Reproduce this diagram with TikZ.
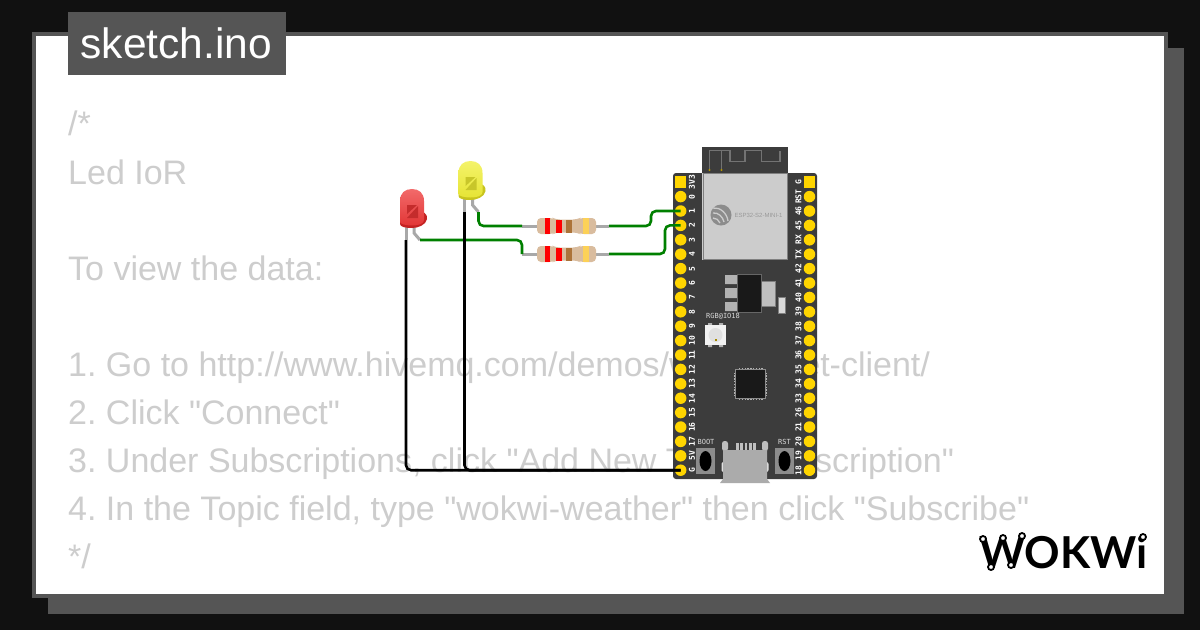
\documentclass[tikz,border=0pt]{standalone}
\usepackage{fontspec}
\setmainfont{Liberation Sans}[Ligatures=TeXOff]
\setmonofont{DejaVu Sans Mono}
\newfontfamily\logofont{Lato}
\definecolor{pagedark}{HTML}{111111}
\definecolor{framegray}{HTML}{555555}
\definecolor{codegray}{HTML}{CDCDCD}
\definecolor{boardgray}{HTML}{3C3C3C}
\definecolor{pinyellow}{HTML}{FFD500}
\definecolor{wiregreen}{HTML}{008000}
\definecolor{legsgray}{HTML}{A8A8A8}
\definecolor{restan}{HTML}{D9BC9E}
\tikzset{
    codeline/.style={anchor=base west,inner sep=0pt,text=codegray,font=\fontsize{34}{38}\selectfont},
    pinround/.style={circle,fill=pinyellow,inner sep=0pt,minimum size=11.5pt},
    pinsquare/.style={rectangle,fill=pinyellow,inner sep=0pt,minimum size=11.5pt},
    pinlabel/.style={rotate=90,inner sep=0pt,text=white,font=\ttfamily\bfseries\fontsize{8}{9}\selectfont},
    silk/.style={inner sep=0pt,text=black!15,font=\ttfamily\fontsize{7}{8}\selectfont},
    greenwire/.style={draw=wiregreen,line width=2.6pt,rounded corners=5pt},
    blackwire/.style={draw=black,line width=2.6pt,rounded corners=5pt},
    leadwire/.style={draw=legsgray,line width=3pt},
}
\frenchspacing
\begin{document}
\begin{tikzpicture}[x=1pt,y=-1pt]
    \useasboundingbox (0,0) rectangle (1200,630);
    % page and frame
    \fill[pagedark] (0,0) rectangle (1200,630);
    \fill[framegray] (48,48) rectangle (1184,614);
    \fill[framegray] (32,32) rectangle (1168,598);
    \fill[white] (36,36) rectangle (1164,594);
    \fill[framegray] (68,12) rectangle (286,75);
    \node[anchor=base west,inner sep=0pt,text=white,font=\fontsize{42.5}{46}\selectfont] (title) at (80.5,58) {sketch.ino};
    % code text
    \node[codeline] (line1) at (68,135) {/*};
    \node[codeline] (line2) at (68,184) {Led IoR};
    \node[codeline] (line4) at (68,280) {To view the data:};
    \node[codeline] (line6) at (68,376) {1. Go to http://www.hivemq.com/demos/websocket-client/};
    \node[codeline] (line7) at (68,424) {2. Click "Connect"};
    \node[codeline] (line8) at (68,472) {3. Under Subscriptions, click "Add New Topic Subscription"};
    \node[codeline] (line9) at (68,520) {4. In the Topic field, type "wokwi-weather" then click "Subscribe"};
    \node[codeline] (line10) at (68,568) {*/};
    % logo
    \node[anchor=base west,inner sep=0pt,text=black,font=\logofont\bfseries\fontsize{44}{48}\selectfont] (logo) at (979,568) {WOKWi};
    \foreach \x/\y in {983/539,1003/538,1022/536,991/567,1011/565,1143/537}
        \draw[black,line width=1.8pt,fill=white] (\x,\y) circle (3);
    % board
    \fill[boardgray] (702,147) rectangle (788,175);
    \draw[black!55,line width=1.8pt] (709.5,170) -- (709.5,150.5) -- (730,150.5) -- (730,161.5) -- (745,161.5) -- (745,150.5) -- (761.5,150.5) -- (761.5,161.5) -- (780,161.5) -- (780,150.5);
    \draw[black!55,line width=1.8pt] (721.5,170) -- (721.5,150.5);
    \fill[pinyellow!70!black] (709.5,170) circle (1.2) (721.5,170) circle (1.2);
    \fill[boardgray,rounded corners=3pt] (673,173) rectangle (817,479);
    \fill[black!20] (702,173) rectangle (788,260);
    \draw[black!50,line width=0.8pt] (703,173.5) rectangle (787,259.5);
    % module marking
    \fill[black!45] (721,215) circle (10.5);
    \draw[black!20,line width=1.3pt] (713,208) .. controls (720,207) and (727,213) .. (728,221);
    \draw[black!20,line width=1.3pt] (713,213) .. controls (718,212) and (723,217) .. (724,222);
    \draw[black!20,line width=1.3pt] (713,218) .. controls (716,218) and (719,220) .. (720,223);
    \node[inner sep=0pt,text=black!40,font=\fontsize{6}{7}\selectfont] (modulename) at (758.5,215) {ESP32-S2-MINI-1};
    % regulator and small parts
    \fill[black!30] (725,275) rectangle (740,284) (725,288) rectangle (740,298) (725,302) rectangle (740,311);
    \fill[black!25,draw=black!50] (758,281) rectangle (775,306);
    \fill[black!90,draw=black!60] (737,274) rectangle (761,312);
    \fill[black!15,draw=black!50] (778,297) rectangle (785,313);
    % rgb led
    \node[silk] (rgbtext) at (723,316.5) {RGB@IO18};
    \fill[black!30] (708,323) rectangle (712,347) (719,323) rectangle (723,347);
    \fill[white!95!black] (705,325) rectangle (726,345);
    \fill[black!12] (715.5,335) circle (7);
    \fill[pinyellow!65!black] (714.5,338.5) rectangle (716.5,341);
    % main chip
    \foreach \i in {0,...,8}{
        \fill[black!30] ({739+\i*2.8},367.5) rectangle ++(1.4,2);
        \fill[black!30] ({739+\i*2.8},397.5) rectangle ++(1.4,2);
        \fill[black!30] (733.5,{372.5+\i*2.8}) rectangle ++(2,1.4);
        \fill[black!30] (764.5,{372.5+\i*2.8}) rectangle ++(2,1.4);
    }
    \fill[black!90,draw=black!45,line width=0.6pt] (735,369) rectangle (765,398);
    % buttons
    \node[silk] (boottext) at (706,441.5) {BOOT};
    \node[silk] (rsttext) at (784.5,441.5) {RST};
    \foreach \x in {705.5,784.5}{
        \fill[black!45] ({\x-9.5},448) rectangle ({\x+9.5},474);
        \fill[black] (\x,461) ellipse (6 and 10);
    }
    % usb
    \foreach \i in {0,...,4}
        \fill[black!25] ({736+\i*4.3},443) rectangle ++(2.8,8);
    \fill[black!25,rounded corners=2.5pt] (722,441) rectangle (728,451) (762,441) rectangle (768,451);
    \fill[black!12,rounded corners=2pt] (721.5,462) rectangle (725,472) (765,462) rectangle (768.5,472);
    \fill[black!33] (723,450) -- (767,450) -- (767,479) -- (770,483) -- (720,483) -- (723,479) -- cycle;
    % pins on the left
    \foreach \n [count=\i from 0] in {3V3,0,1,2,3,4,5,6,7,8,9,10,11,12,13,14,15,16,17,5V,G}{
        \ifnum\i=0
            \node[pinsquare] (pinL\n) at (680.7,{182.2+14.4*\i}) {};
        \else
            \node[pinround] (pinL\n) at (680.7,{182.2+14.4*\i}) {};
        \fi
        \node[pinlabel] (txtL\n) at (692,{182.2+14.4*\i}) {\n};
    }
    % pins on the right
    \foreach \n [count=\i from 0] in {G,RST,46,45,RX,TX,42,41,40,39,38,37,36,35,34,33,26,21,20,19,18}{
        \ifnum\i=0
            \node[pinsquare] (pinR\n) at (809.5,{182.2+14.4*\i}) {};
        \else
            \node[pinround] (pinR\n) at (809.5,{182.2+14.4*\i}) {};
        \fi
        \node[pinlabel] (txtR\n) at (798.5,{182.2+14.4*\i}) {\n};
    }
    % resistors
    \foreach \y/\n in {226/Top,254/Bot}{
        \coordinate (res\n L) at (522,\y);
        \coordinate (res\n R) at (609,\y);
        \draw[leadwire] (res\n L) -- (res\n R);
        \fill[restan,rounded corners=4pt] (537,\y-8) -- (553,\y-8) -- (556,\y-6.5) -- (577,\y-6.5) -- (580,\y-8) -- (596,\y-8) -- (596,\y+8) -- (580,\y+8) -- (577,\y+6.5) -- (556,\y+6.5) -- (553,\y+8) -- (537,\y+8) -- cycle;
        \fill[red] (544.5,\y-8) rectangle (550,\y+8);
        \fill[red] (556,\y-6.5) rectangle (561.5,\y+6.5);
        \fill[brown!90!black] (566,\y-6.5) rectangle (571.5,\y+6.5);
        \fill[yellow!50!orange!65!white] (583,\y-8) rectangle (589,\y+8);
    }
    % leds
    \foreach \x/\y/\c/\d/\e/\h/\n in {0/0/E23636/C42222/C42C2C/F26A6A/R,58.5/-28/E6E435/C8C41E/C8C62A/F4F36A/Y}{
        \definecolor{ledbody}{HTML}{\c}
        \definecolor{ledbase}{HTML}{\d}
        \definecolor{ledmark}{HTML}{\e}
        \definecolor{ledtop}{HTML}{\h}
        \begin{scope}[shift={(\x,\y)}]
            \coordinate (led\n C) at (406,240);
            \coordinate (led\n A) at (420,240);
            \draw[leadwire] (406,226) -- (led\n C);
            \draw[leadwire] (414,226) -- (414,233) -- (led\n A);
            \fill[ledbase] (400,220) -- (416,212) .. controls (423,210) and (428,214) .. (427,219) .. controls (426,225) and (418,228) .. (412,228) .. controls (406,228) and (400,227) .. (400,224) -- cycle;
            \shade[top color=ledtop,bottom color=ledbody] (400,201) .. controls (400,193) and (405,189) .. (412,189) .. controls (419,189) and (424,193) .. (424,201) -- (424,220) .. controls (424,224) and (418,225.5) .. (412,225.5) .. controls (406,225.5) and (400,224) .. (400,222) -- cycle;
            \fill[ledmark] (407,205) -- (417,205) -- (407,214) -- cycle (418,206) -- (418,218) -- (407,218) -- cycle;
        \end{scope}
    }
    % wires
    \coordinate (bendTop) at (651,226);
    \coordinate (bendBot) at (665,254);
    \draw[greenwire] (ledYA) |- (resTopL);
    \draw[greenwire] (ledRA) -| (resBotL);
    \draw[greenwire] (resTopR) -- (bendTop) |- (pinL1.center);
    \draw[greenwire] (resBotR) -- (bendBot) |- (pinL2.center);
    \draw[blackwire] (ledRC) |- (pinLG.center);
    \draw[blackwire] (ledYC) |- (pinLG.center);
\end{tikzpicture}
\end{document}
